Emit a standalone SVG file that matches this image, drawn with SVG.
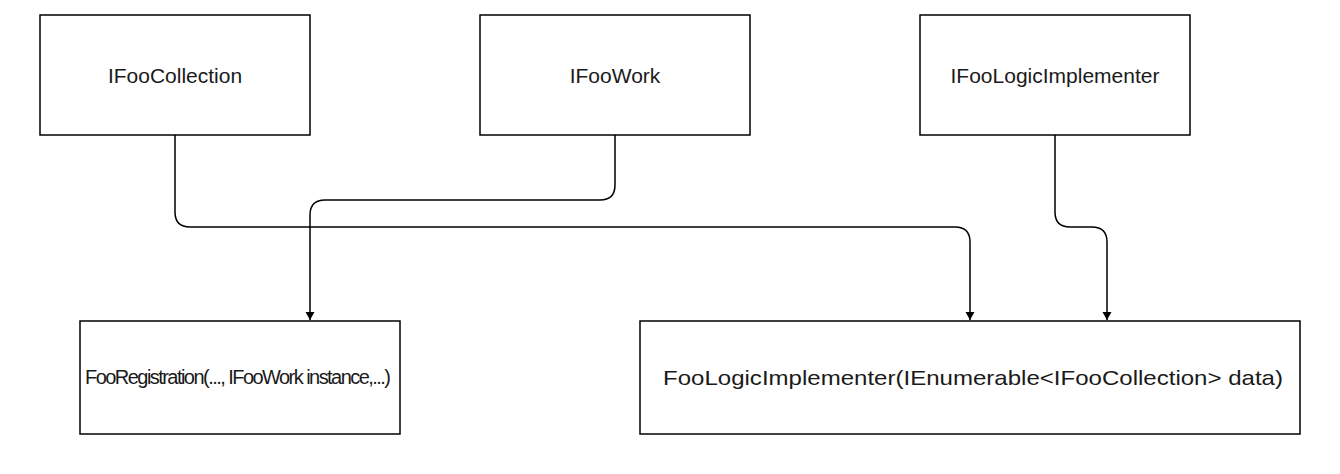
<svg xmlns="http://www.w3.org/2000/svg" width="1340" height="474" viewBox="0 0 1340 474">
<style>
.n{fill:#fff;stroke:#000;stroke-width:1.5}
.t{font-family:"Liberation Sans",Arial,sans-serif;font-size:21px;text-anchor:middle;dominant-baseline:central;fill:#1a1a1a}
.c{fill:none;stroke:#000;stroke-width:1.5;marker-end:url(#a)}
</style>
<defs><marker id="a" markerWidth="10" markerHeight="10" refX="8" refY="5" orient="auto" markerUnits="userSpaceOnUse"><path d="M0,0.5 L8,5 L0,9.5 Z" fill="#000"/></marker></defs>
<rect width="1340" height="474" fill="#fff"/>
<g id="n1"><rect class="n" x="40" y="15" width="270" height="120"/><text class="t" x="175" y="75">IFooCollection</text></g>
<g id="n2"><rect class="n" x="480" y="15" width="270" height="120"/><text class="t" x="615" y="75">IFooWork</text></g>
<g id="n3"><rect class="n" x="920" y="15" width="270" height="120"/><text class="t" x="1055" y="75">IFooLogicImplementer</text></g>
<g id="n4"><rect class="n" x="80" y="321" width="320" height="113"/><text class="t" x="238" y="377" style="font-size:20px" textLength="306" lengthAdjust="spacing">FooRegistration(..., IFooWork instance,...)</text></g>
<g id="n5"><rect class="n" x="640" y="321" width="660" height="113"/><text class="t" x="973" y="377" textLength="620" lengthAdjust="spacingAndGlyphs">FooLogicImplementer(IEnumerable&lt;IFooCollection&gt; data)</text></g>
<g id="connectors">
<path class="c" d="M175,135 V212 Q175,227 190,227 H955 Q970,227 970,242 V320"/>
<path class="c" d="M615,135 V185 Q615,200 600,200 H325 Q310,200 310,215 V320"/>
<path class="c" d="M1055,135 V212 Q1055,227 1070,227 H1092 Q1107,227 1107,242 V320"/>
</g>
</svg>
